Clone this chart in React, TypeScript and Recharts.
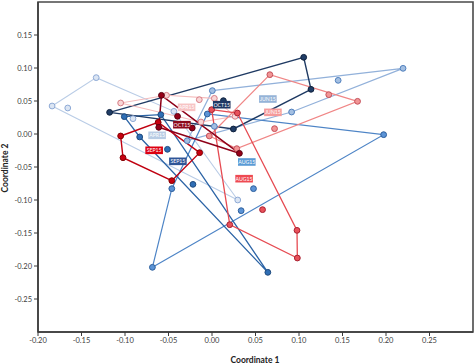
import React from 'react';
import { ScatterChart, Scatter, XAxis, YAxis, ReferenceArea } from 'recharts';

type Pt = { x: number; y: number };

// Points per month, blue site
const APR_BLUE: Pt[] = [
  { x: -0.1838, y: 0.0424 }, { x: -0.1331, y: 0.0854 }, { x: -0.1658, y: 0.0394 },
  { x: -0.0908, y: 0.0232 }, { x: -0.0438, y: 0.0343 }, { x: 0.0296, y: -0.1 },
];
const JUN_BLUE: Pt[] = [
  { x: 0.0004, y: 0.0657 }, { x: 0.145, y: 0.0813 }, { x: 0.2196, y: 0.0995 },
  { x: 0.0915, y: 0.0333 }, { x: 0.0027, y: 0.0116 }, { x: -0.0285, y: -0.0101 },
];
const AUG_BLUE: Pt[] = [
  { x: 0.1973, y: -0.001 }, { x: -0.0685, y: -0.202 }, { x: -0.0462, y: -0.0828 },
  { x: -0.0054, y: 0.0303 }, { x: 0.0335, y: -0.1162 }, { x: 0.0477, y: -0.0828 },
];
const SEP_BLUE: Pt[] = [
  { x: -0.1008, y: 0.0263 }, { x: -0.0588, y: 0.0293 }, { x: 0.0642, y: -0.2096 },
  { x: -0.0831, y: -0.0045 }, { x: -0.0512, y: -0.0232 }, { x: -0.0219, y: -0.0763 },
];
const OCT_BLUE: Pt[] = [
  { x: -0.1177, y: 0.0328 }, { x: 0.1054, y: 0.1162 }, { x: 0.1138, y: 0.0677 },
  { x: 0.0246, y: 0.0076 }, { x: 0.0131, y: 0.0505 },
];

// Points per month, red site
const APR_RED: Pt[] = [
  { x: -0.105, y: 0.047 }, { x: -0.0523, y: 0.0586 }, { x: -0.0146, y: 0.052 },
  { x: 0.0027, y: 0.054 }, { x: 0.0265, y: 0.0268 }, { x: -0.0127, y: 0.0182 },
];
const JUN_RED: Pt[] = [
  { x: 0.0665, y: 0.0899 }, { x: 0.1342, y: 0.0596 }, { x: 0.1673, y: 0.0495 },
  { x: 0.0719, y: 0.0081 }, { x: 0.0285, y: -0.0222 }, { x: -0.0031, y: -0.003 },
];
const AUG_RED: Pt[] = [
  { x: -0.0004, y: 0.0369 }, { x: 0.0292, y: 0.0318 }, { x: 0.0977, y: -0.146 },
  { x: 0.0981, y: -0.1879 }, { x: 0.0204, y: -0.1374 }, { x: 0.0581, y: -0.1146 },
];
const SEP_RED: Pt[] = [
  { x: -0.105, y: -0.003 }, { x: -0.1023, y: -0.0359 }, { x: -0.0462, y: -0.0707 },
  { x: -0.0142, y: -0.0283 }, { x: -0.0619, y: 0.0177 },
];
const OCT_RED: Pt[] = [
  { x: -0.0581, y: 0.0586 }, { x: -0.0396, y: 0.0268 }, { x: -0.0227, y: 0.0091 },
  { x: 0.0315, y: -0.0293 }, { x: -0.0612, y: 0.0101 },
];

const X_TICKS = [-0.2, -0.15, -0.1, -0.05, 0, 0.05, 0.1, 0.15, 0.2, 0.25];
const Y_TICKS = [-0.25, -0.2, -0.15, -0.1, -0.05, 0, 0.05, 0.1, 0.15];

const groups = [
  { name: 'APR15', data: APR_BLUE, line: '#b9cce6', fill: '#dbe5f3', stroke: '#8eaad6', tag: '#b8cce4', lw: 1.1, lx: -0.0631, ly: -0.002 },
  { name: 'JUN15', data: JUN_BLUE, line: '#92b1da', fill: '#a3bfe2', stroke: '#4f7fbd', tag: '#95b3d7', lw: 1.2, lx: 0.0642, ly: 0.053 },
  { name: 'AUG15', data: AUG_BLUE, line: '#4d84c6', fill: '#5b93d6', stroke: '#2d5f9c', tag: '#5b9bd5', lw: 1.2, lx: 0.04, ly: -0.0424 },
  { name: 'SEP15', data: SEP_BLUE, line: '#2c64a6', fill: '#2f6eb5', stroke: '#1f4a7d', tag: '#2f5597', lw: 1.3, lx: -0.0392, ly: -0.0414 },
  { name: 'OCT15', data: OCT_BLUE, line: '#1f3a63', fill: '#203d66', stroke: '#0f213d', tag: '#1f3864', lw: 1.4, lx: 0.0112, ly: 0.0444 },
  { name: 'APR15', data: APR_RED, line: '#f5bcbc', fill: '#f9d6d6', stroke: '#d77c85', tag: '#f7c4c4', lw: 1.1, lx: -0.0292, ly: 0.0404 },
  { name: 'JUN15', data: JUN_RED, line: '#f08686', fill: '#f29595', stroke: '#c4505a', tag: '#f59a9a', lw: 1.2, lx: 0.07, ly: 0.0328 },
  { name: 'AUG15', data: AUG_RED, line: '#e64b52', fill: '#e8515a', stroke: '#a82030', tag: '#ee4a52', lw: 1.3, lx: 0.0369, ly: -0.0677 },
  { name: 'SEP15', data: SEP_RED, line: '#c00010', fill: '#c80010', stroke: '#800000', tag: '#dd0010', lw: 1.4, lx: -0.0665, ly: -0.0247 },
  { name: 'OCT15', data: OCT_RED, line: '#8e0018', fill: '#960018', stroke: '#5a0010', tag: '#8c0a1c', lw: 1.5, lx: -0.0346, ly: 0.0141 },
];

// convex hull (monotone chain), closed
function hull(pts: Pt[]): Pt[] {
  const p = [...pts].sort((a, b) => a.x - b.x || a.y - b.y);
  const cross = (o: Pt, a: Pt, b: Pt) => (a.x - o.x) * (b.y - o.y) - (a.y - o.y) * (b.x - o.x);
  const lower: Pt[] = [];
  for (const q of p) {
    while (lower.length >= 2 && cross(lower[lower.length - 2], lower[lower.length - 1], q) <= 0) lower.pop();
    lower.push(q);
  }
  const upper: Pt[] = [];
  for (let i = p.length - 1; i >= 0; i--) {
    const q = p[i];
    while (upper.length >= 2 && cross(upper[upper.length - 2], upper[upper.length - 1], q) <= 0) upper.pop();
    upper.push(q);
  }
  const h = lower.slice(0, -1).concat(upper.slice(0, -1));
  return [...h, h[0]];
}

const font = 'Lato, "Open Sans", sans-serif';
const fmt = (v: number) => v.toFixed(2);

export default function App() {
  return (
    <div style={{ position: 'absolute', left: 0, top: 0, background: '#fff' }}>
      <ScatterChart width={474} height={364} margin={{ top: 2, right: 1, bottom: 0, left: 0 }} style={{ fontFamily: font }}>
        <XAxis
          type="number" dataKey="x" domain={[-0.2, 0.3]} ticks={X_TICKS} tickFormatter={fmt}
          height={32} tickSize={4} stroke="#3a3a3a" axisLine={{ strokeWidth: 1.4 }}
          tick={{ fontSize: 7.5, fill: '#404040' }} allowDataOverflow
          label={{
            position: 'insideBottom',
            content: () => (
              <text x={255} y={363} textAnchor="middle" fontSize={8.5} fontWeight="bold" fill="#222" fontFamily={font}>Coordinate 1</text>
            ),
          }}
        />
        <YAxis
          type="number" dataKey="y" domain={[-0.3, 0.2]} ticks={Y_TICKS} tickFormatter={fmt}
          width={38} tickSize={4} stroke="#3a3a3a" axisLine={{ strokeWidth: 1.4 }}
          tick={{ fontSize: 7.5, fill: '#404040' }} allowDataOverflow
          label={{
            position: 'insideLeft',
            content: () => (
              <text x={8} y={168} transform="rotate(-90 8 168)" textAnchor="middle" fontSize={8.5} fontWeight="bold" fill="#222" fontFamily={font}>Coordinate 2</text>
            ),
          }}
        />
        <ReferenceArea x1={-0.2} x2={0.3} y1={-0.3} y2={0.2} fill="none" stroke="#4a4a4a" strokeWidth={1.6} ifOverflow="visible" />
        {groups.map((g, i) => (
          <Scatter
            key={`h${i}`} data={hull(g.data)} line={{ stroke: g.line, strokeWidth: g.lw }} lineType="joint"
            shape={() => <g />} isAnimationActive={false}
          />
        ))}
        {groups.map((g, i) => (
          <Scatter
            key={`p${i}`} data={g.data} isAnimationActive={false}
            shape={(p: any) => <circle cx={p.cx} cy={p.cy} r={2.9} fill={g.fill} stroke={g.stroke} strokeWidth={1} />}
          />
        ))}
        {groups.map((g, i) => (
          <Scatter
            key={`l${i}`} data={[{ x: g.lx, y: g.ly }]} isAnimationActive={false}
            shape={(p: any) => (
              <g>
                <rect x={p.cx - 8.8} y={p.cy - 3.8} width={17.6} height={7.6} fill={g.tag} />
                <text x={p.cx} y={p.cy + 1.9} textAnchor="middle" fontSize={5.2} fill="#fff" fontFamily={font}>{g.name}</text>
              </g>
            )}
          />
        ))}
      </ScatterChart>
    </div>
  );
}
